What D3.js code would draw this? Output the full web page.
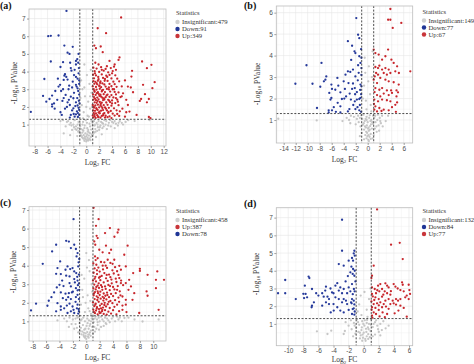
<!DOCTYPE html>
<html lang="en">
<head>
<meta charset="utf-8">
<title>Volcano plots</title>
<script src="https://d3js.org/d3.v7.min.js"></script>
<style>
  body { margin: 0; background: #fff; }
  svg { display: block; font-family: "Liberation Serif", "Times New Roman", serif; }
  .tick text { fill: #4d4d4d; font-size: 6.5px; }
  .tick line { stroke: #666; stroke-width: 0.6; }
</style>
</head>
<body>
<script>
// ---------- panel (a) ----------
var aXTicks = [-8, -6, -4, -2, 0, 2, 4, 6, 8, 10, 12];
var aYTicks = [1, 2, 3, 4, 5, 6, 7];
var aLegendKinds = ["gray", "down", "up"];
var aLegendLabels = ["Insignificant:479", "Down:91", "Up:349"];
var aGray = [[0,0.05],[0.1,0.12],[-0.1,0.18],[0.3,0.1],[-0.3,0.08],[0.2,0.25],[-0.2,0.3],[0.5,0.2],[-0.5,0.22],[0.05,0.35],[0.4,0.38],[-0.4,0.4],[0.7,0.3],[-0.7,0.35],[0.15,0.45],[-0.15,0.5],[0.6,0.5],[-0.6,0.55],[0.9,0.45],[-0.9,0.5],
  [1.1,0.6],[-1.1,0.65],[1.4,0.75],[-1.3,0.8],[1.8,0.85],[-1.6,0.9],[2.2,0.95],[-2.0,1.0],[2.6,1.05],[-2.4,1.1],[3.0,1.0],[3.5,1.1],[4.0,1.15],[4.6,1.05],[5.2,1.2],[5.7,1.0],[1.2,1.2],[1.6,1.1],[-1.2,1.15],[-1.8,1.25],[-2.8,1.2],[-3.2,0.9],[0.3,0.7],[-0.3,0.8],[0.6,0.9],[-0.6,1.0],[0.1,1.1],[-0.1,1.25],[0.8,1.2],[-0.8,0.75],[2.0,0.7],[2.5,0.8],[3.2,0.75],[-2.2,0.7],[1.0,0.95],[-1.0,1.05],[2.8,1.25],[3.8,0.9],[4.4,0.8],[6.1,1.15],[7.5,1.2],[9.8,1.25],[-4.0,1.2],[-3.5,0.5],[-2.5,0.4],[2.4,0.45],[1.5,0.3],[-1.4,0.35],[0.25,0.6],[-0.45,0.65],[0.75,0.72],[1.3,0.95],[1.9,1.2],[2.3,1.15],[4.9,0.95],
  [0.35,0.15],[-0.35,0.2],[0.65,0.12],[-0.65,0.28],[0.85,0.35],[-0.85,0.4],[1.05,0.45],[-1.05,0.55],[1.25,0.55],[-1.25,0.6],[1.45,0.6],[-1.5,0.7],[1.7,0.65],[-1.7,0.75],[2.1,0.85],[-1.9,0.85],[2.7,0.9],[-2.3,0.95],[3.4,0.95],[-2.6,1.0],[4.2,1.1],[-3.0,1.15],[5.0,1.1],[1.35,1.0],[-1.35,1.0],[0.5,1.05],[-0.5,1.15],[0.95,1.1],[-0.95,0.9],[1.75,1.0],[2.45,1.1],[3.1,1.2],[3.7,1.25],[4.4,1.2],[5.5,1.1],[6.5,1.25],[-3.6,1.25],[0.15,0.8],[-0.25,0.95],[0.45,0.55],[-0.55,0.7],
  [0.2,1.5],[-0.4,1.7],[0.6,1.9],[-0.7,2.1],[0.3,2.3],[-0.2,2.6],[0.8,2.8],[-0.6,3.0],[0.5,3.3],[-0.8,3.5],[0.1,3.8],[0.7,4.1],[-0.3,4.4],[0.9,2.0],[-0.9,2.5],[0.4,1.45],[-0.5,1.35],[0.0,2.0],[0.6,2.6],[-0.3,3.1]];
var aDown = [[-3.07,7.43],[-5.9,6.0],[-5.5,6.02],[-4.3,6.04],[-3.4,5.47],[-2.1,5.4],[-2.9,5.07],[-2.6,5.0],[-1.2,5.0],[-5.5,4.57],[-3.6,4.53],[-1.4,4.7],[-1.6,4.4],[-4.0,4.26],[-2.4,4.2],[-2.3,4.05],[-3.3,3.85],[-3.4,3.77],[-1.9,3.8],[-1.6,3.7],[-1.35,3.6],[-6.5,3.58],[-3.5,3.53],[-2.1,3.43],[-4.3,3.15],[-4.06,3.25],[-2.65,3.2],[-2.75,3.0],[-1.6,3.25],[-1.35,3.05],[-3.9,2.9],[-6.7,2.62],[-5.3,2.64],[-5.7,2.45],[-3.2,2.68],[-2.4,2.58],[-2.0,2.49],[-3.7,2.34],[-5.3,2.15],[-5.3,2.02],[-2.9,2.26],[-2.55,2.11],[-1.6,2.26],[-1.35,2.08],[-2.0,1.92],[-8.6,1.72],[-4.0,1.7],[-3.8,1.55],[-2.4,1.55],[-2.55,1.4],[-1.6,1.58],[-1.3,1.43],[-1.1,1.83],[-1.15,4.2],[-1.2,3.9],[-1.1,3.3],[-1.25,2.9],[-1.1,2.7],[-1.4,2.5],[-1.15,2.35],[-1.2,1.95],[-1.45,1.75],[-1.1,1.55],[-1.8,1.45],[-2.2,1.8],[-3.0,2.0],[-4.5,2.4],[-4.8,2.9],[-3.6,3.0],[-2.9,3.55],[-1.8,4.1],[-1.25,4.5],[-1.1,3.5],[-1.9,2.8],[-2.7,2.4],[-3.3,1.9],[-4.4,3.6],[-5.0,2.2],[-1.5,3.15],[-2.2,3.1],[-1.7,2.05],[-1.3,1.65],[-3.5,2.5],[-4.9,1.9],[-6.2,2.3],[-1.6,4.6],[-2.5,4.5],[-3.1,3.7],[-1.95,1.6],[-1.05,2.2]];
var aUp = [[5.4,7.06],[1.77,6.45],[3.07,6.17],[2.24,5.42],[1.25,5.47],[1.5,5.32],[2.55,5.1],[5.15,4.8],[5.0,4.66],[3.6,4.6],[4.4,4.4],[4.3,4.28],[8.65,4.57],[10.1,4.38],[9.4,4.19],[7.1,4.04],[7.0,3.72],[10.6,3.4],[8.8,3.25],[10.25,3.06],[6.45,3.15],[7.25,2.83],[8.3,2.34],[8.5,2.45],[9.1,2.72],[9.7,2.45],[9.4,2.26],[6.2,1.7],[6.7,1.74],[7.8,1.55],[9.7,1.43],[9.95,1.36],[6.2,2.4],[6.45,2.11],[5.7,2.77],[6.9,3.1],[6.0,3.5],[5.6,1.9],[6.0,1.45],
  [1.1,4.22],[1.6,4.17],[2.3,4.25],[3.0,4.15],[3.8,4.2],[1.3,4.02],[2.0,3.98],[2.7,4.05],[3.4,3.96],[4.1,4.03],[1.05,3.82],[1.5,3.78],[2.4,3.84],[3.1,3.77],[3.6,3.81],[4.5,3.79],[1.2,3.62],[1.9,3.57],[2.6,3.64],[2.9,3.58],[3.9,3.61],[4.8,3.6],[1.1,3.46],[1.4,3.42],[1.8,3.48],[2.2,3.44],[3.3,3.47],[4.2,3.43],[5.1,3.45],[1.25,3.31],[1.7,3.28],[2.5,3.33],[2.8,3.27],[3.6,3.3],[4.4,3.29],[1.0,3.16],[1.5,3.13],[2.0,3.18],[2.3,3.12],[3.0,3.15],[3.9,3.17],[4.7,3.14],[5.5,3.16],[1.15,3.01],[1.6,2.98],[2.1,3.03],[2.6,2.97],[3.2,3.02],[3.5,2.99],[4.1,3.0],[1.3,2.86],[1.8,2.83],[2.4,2.88],[2.9,2.84],[3.7,2.87],[4.4,2.85],[5.0,2.82],[1.05,2.71],[1.45,2.68],[1.95,2.73],[2.2,2.69],[2.7,2.72],[3.3,2.7],[3.9,2.67],[4.6,2.71],[1.2,2.56],[1.7,2.53],[2.3,2.58],[2.5,2.52],[3.0,2.55],[3.6,2.57],[4.2,2.54],[5.3,2.56],[1.1,2.41],[1.5,2.38],[1.9,2.43],[2.6,2.39],[2.8,2.42],[3.4,2.4],[4.0,2.37],[4.8,2.41],[1.3,2.26],[1.6,2.23],[2.1,2.28],[2.4,2.24],[3.1,2.25],[3.7,2.27],[4.5,2.22],[1.0,2.11],[1.4,2.08],[1.8,2.13],[2.2,2.09],[2.7,2.1],[3.3,2.12],[3.9,2.07],[5.0,2.1],[1.2,1.96],[1.55,1.93],[2.0,1.98],[2.5,1.94],[2.9,1.97],[3.5,1.95],[4.3,1.92],[1.05,1.81],[1.35,1.78],[1.75,1.83],[2.3,1.79],[2.6,1.82],[3.2,1.8],[3.8,1.77],[4.7,1.81],[1.15,1.66],[1.5,1.63],[1.9,1.68],[2.1,1.64],[2.8,1.65],[3.4,1.67],[4.1,1.62],[1.0,1.51],[1.3,1.48],[1.7,1.53],[2.4,1.49],[2.6,1.52],[3.0,1.5],[3.6,1.47],[4.4,1.51],[5.1,1.49],[1.1,1.41],[1.45,1.38],[1.85,1.43],[2.2,1.39],[2.9,1.4],[3.3,1.42],[3.9,1.37],
  [1.35,3.9],[1.85,3.7],[1.6,3.35],[2.05,3.22],[1.25,2.92],[1.65,2.78],[2.05,2.62],[1.35,2.47],[1.75,2.33],[2.25,2.17],[1.15,2.02],[1.6,1.88],[2.05,1.73],[1.25,1.58],[1.85,1.45],[2.65,1.6],[2.35,2.02],[2.75,2.48],[2.45,2.93],[2.15,3.36],[2.85,3.48],[3.25,3.7],[3.5,3.1],[3.15,2.65],[3.55,2.35],[3.05,1.9],[3.45,1.72],[4.0,2.2],[4.6,2.5],[4.3,3.0],[4.9,2.3],[5.2,1.75],[4.8,1.6],[5.5,2.6],[4.0,3.9],[4.6,4.1],[3.2,4.3],[2.4,4.1],[1.9,4.4],[1.4,4.5]];

// ---------- panel (b) ----------
var bXTicks = [-14, -12, -10, -8, -6, -4, -2, 0, 2, 4, 6];
var bYTicks = [1, 2, 3, 4, 5, 6];
var bLegendKinds = ["gray", "down", "up"];
var bLegendLabels = ["Insignificant:149", "Down:77", "Up:67"];
var bGray = [[0.1,0.08],[-0.2,0.15],[0.3,0.22],[-0.4,0.3],[0.5,0.35],[-0.1,0.4],[0.2,0.5],[-0.6,0.55],[0.7,0.6],[-0.3,0.65],[0.4,0.72],[-0.8,0.78],[0.9,0.82],[0.0,0.9],[-0.5,0.95],[0.6,1.0],[-0.9,1.05],[1.1,1.1],[-0.2,1.15],[0.35,1.22],[-0.7,1.25],[1.3,0.9],[1.6,1.0],[2.0,1.1],[2.4,1.2],[-1.2,0.7],[-1.5,0.9],[-1.8,1.05],[-2.3,1.15],[-2.8,1.2],[-3.5,1.1],[-4.2,0.95],[-8.5,0.98],[-14.9,1.06],[-1.1,1.22],[1.2,0.6],[1.5,0.45],[-1.0,0.4],[2.5,0.7],[3.0,0.95],[3.4,1.2],[1.9,0.5],[-1.3,0.25],[0.8,0.15],[-0.6,0.1],[0.2,0.02],[1.0,0.3],[-3.1,1.0],[-2.9,0.85],[1.8,0.75],
  [0.15,0.3],[-0.25,0.45],[0.35,0.55],[-0.45,0.7],[0.55,0.8],[-0.65,0.85],[0.75,0.9],[-0.2,1.0],[0.25,1.1],[1.25,1.2],[-1.3,1.1],[1.45,0.7],[-1.6,1.2],[2.1,0.95],[0.15,0.65],[-0.05,0.25],[0.5,0.12],
  [-0.3,1.9],[0.4,2.2],[-0.6,2.6],[0.7,3.0],[0.2,3.5],[-0.5,3.9],[0.8,4.2],[-0.2,1.5],[0.5,1.7],[-0.8,2.0],[0.1,2.8],[0.6,1.4],[-0.4,3.2],[1.7,1.25],[-2.0,0.8],[2.2,0.85],[0.05,0.6],[-0.15,0.75],[0.45,0.95],[0.9,1.2],[-0.35,1.05]];
var bDown = [[-1.9,5.75],[-1.6,4.97],[-1.4,4.81],[-3.3,4.67],[-2.6,4.46],[-2.2,4.2],[-2.05,4.12],[-1.4,3.97],[-10.2,3.55],[-7.7,3.66],[-1.2,3.66],[-1.05,3.42],[-3.3,3.27],[-2.9,3.24],[-2.45,3.35],[-3.7,3.11],[-6.9,3.03],[-7.05,2.88],[-5.05,2.96],[-4.0,2.8],[-3.2,2.72],[-2.05,3.03],[-1.65,2.85],[-12.05,2.69],[-9.2,2.69],[-7.3,2.8],[-6.05,2.65],[-5.95,2.45],[-5.4,2.41],[-2.6,2.45],[-2.15,2.49],[-1.2,2.65],[-1.05,2.57],[-6.4,2.26],[-4.55,2.29],[-3.0,2.23],[-6.05,2.03],[-6.2,1.95],[-4.3,1.98],[-3.6,2.1],[-2.8,1.95],[-2.15,1.87],[-1.8,1.95],[-1.4,1.98],[-1.2,2.03],[-8.45,1.56],[-5.65,1.6],[-4.55,1.64],[-6.5,1.45],[-5.95,1.45],[-3.05,1.51],[-3.3,1.4],[-2.05,1.51],[-1.4,1.45],[-6.5,1.35],[-5.3,1.38],[-4.55,1.35],[-1.8,2.3],[-1.05,3.1],[-1.1,2.2],[-1.3,1.7],[-1.1,1.38],[-2.4,1.7],[-3.8,2.45],[-4.9,2.6],[-1.5,3.2],[-1.05,3.9],[-1.1,4.3],[-2.75,3.8],[-3.9,2.0],[-2.45,2.7],[-1.7,1.6],[-7.9,2.55],[-5.0,1.8],[-1.25,2.4],[-1.6,3.55],[-2.1,2.2]];
var bUp = [[3.78,6.17],[3.4,5.67],[3.78,5.67],[5.6,5.52],[4.17,5.29],[1.0,4.28],[1.28,4.12],[1.83,4.05],[3.4,4.28],[2.95,3.97],[2.4,3.81],[3.95,3.81],[4.33,3.66],[4.9,3.5],[7.1,3.27],[1.28,3.47],[1.72,3.42],[1.94,3.53],[2.4,3.35],[2.95,3.42],[3.5,3.35],[1.4,3.19],[1.17,3.03],[1.72,3.11],[2.1,2.96],[2.67,3.19],[3.2,3.11],[3.78,3.19],[4.6,3.27],[5.2,3.19],[1.0,2.88],[1.56,2.72],[2.95,2.88],[3.5,2.8],[4.33,2.76],[5.17,2.65],[1.28,2.49],[1.94,2.41],[2.4,2.49],[3.2,2.38],[3.9,2.38],[4.8,2.38],[5.05,2.29],[1.56,2.16],[2.1,2.1],[2.67,2.23],[3.5,2.16],[4.05,2.26],[4.8,2.1],[1.1,1.95],[1.72,1.87],[2.4,1.95],[3.2,1.92],[3.78,1.87],[4.9,1.82],[4.6,1.71],[1.28,1.64],[1.94,1.56],[2.67,1.48],[1.1,1.48],[1.56,1.4],[2.3,1.42],[3.5,1.45],[4.05,1.6],[4.7,1.38],[1.15,2.3],[1.05,1.75]];

// ---------- panel (c) ----------
var cXTicks = [-8, -6, -4, -2, 0, 2, 4, 6, 8, 10];
var cYTicks = [1, 2, 3, 4, 5, 6, 7];
var cLegendKinds = ["gray", "up", "down"];
var cLegendLabels = ["Insignificant:458", "Up:387", "Down:78"];
var cGray = [[0.0,0.05],[-0.2,0.12],[0.25,0.18],[-0.4,0.25],[0.45,0.3],[-0.1,0.35],[0.15,0.42],[-0.6,0.45],[0.7,0.5],[-0.3,0.55],[0.35,0.6],[-0.8,0.65],[0.9,0.7],[0.05,0.75],[-0.5,0.8],[0.6,0.85],[-1.0,0.9],[1.1,0.95],[-0.2,1.0],[0.4,1.05],[-0.7,1.1],[0.8,1.15],[-1.3,1.2],[1.4,1.25],[-1.6,0.85],[1.7,0.8],[2.0,1.0],[2.4,1.1],[2.8,1.2],[3.3,1.05],[3.8,1.15],[4.3,1.0],[5.0,1.2],[5.7,1.18],[8.4,0.99],[10.8,1.1],[-2.0,1.1],[-2.5,1.2],[-3.3,1.15],[-4.3,1.05],[-1.8,0.6],[1.9,0.55],[-1.2,0.4],[1.3,0.45],[2.6,0.75],[-2.6,0.7],[0.2,0.9],[-0.45,1.2],[0.9,1.25],[1.6,1.1],[-1.1,1.25],[-0.1,0.2],[0.3,0.28],[0.55,0.4],[-0.35,0.38],[1.2,0.7],[-0.9,0.5],[3.0,0.85],[4.6,1.25],
  [0.35,0.12],[-0.35,0.18],[0.65,0.22],[-0.7,0.3],[1.0,0.35],[-1.0,0.45],[1.5,0.6],[-1.4,0.65],[2.2,0.7],[-2.2,0.85],[2.9,0.9],[-2.9,1.0],[3.5,0.95],[4.0,1.25],[4.8,1.1],[5.3,1.0],[6.3,1.2],[7.2,1.1],[1.25,1.15],[-1.6,1.15],[0.15,1.15],[1.85,1.2],[2.2,1.25],[3.1,1.15],[-0.85,1.05],[0.7,1.0],[-0.15,0.6],[0.5,0.75],[1.7,0.95],[2.6,1.0],
  [0.0,4.68],[0.5,3.7],[-0.3,3.3],[0.8,3.0],[-0.6,2.7],[0.2,2.4],[0.6,2.1],[-0.8,1.9],[0.3,1.7],[-0.2,1.5],[0.7,1.4],[-0.5,2.3],[0.1,3.9],[-0.7,3.5],[0.9,2.6],[0.4,4.3],[-0.1,2.0],[0.5,1.55]];
var cDown = [[-1.9,6.51],[-3.0,5.34],[-2.6,5.3],[-4.5,5.13],[-5.1,4.77],[-1.8,5.13],[-2.3,4.95],[-1.55,4.9],[-1.3,4.68],[-1.45,4.5],[-6.5,4.1],[-3.9,4.23],[-1.05,4.36],[-1.15,4.18],[-4.3,3.87],[-2.8,3.96],[-2.4,3.82],[-3.1,3.78],[-2.05,3.87],[-1.8,3.69],[-1.2,3.96],[-1.5,3.6],[-1.1,3.52],[-4.5,3.56],[-3.8,3.55],[-3.0,3.46],[-2.5,3.42],[-1.8,3.28],[-1.3,3.2],[-4.0,2.97],[-4.4,2.83],[-2.5,3.06],[-2.3,2.88],[-1.55,2.79],[-1.3,2.67],[-4.8,2.56],[-3.8,2.56],[-3.1,2.49],[-2.6,2.52],[-2.15,2.56],[-1.3,2.43],[-1.55,2.31],[-3.5,2.25],[-3.0,2.16],[-2.3,2.2],[-5.6,2.11],[-7.5,1.95],[-8.25,1.59],[-5.8,1.84],[-4.3,1.98],[-3.8,1.8],[-2.5,1.95],[-2.05,1.8],[-1.3,1.9],[-1.15,1.66],[-4.5,1.54],[-3.8,1.62],[-2.8,1.45],[-2.3,1.54],[-1.8,1.45],[-1.2,1.42],[-1.1,1.55],[-3.3,1.7],[-1.6,2.05],[-1.1,2.2],[-1.25,2.95],[-1.7,3.1],[-2.0,2.6],[-2.7,2.3],[-3.4,2.9],[-3.6,3.2],[-1.4,1.7],[-1.9,1.62],[-2.9,1.85],[-1.05,2.7],[-1.1,3.05],[-1.35,3.4],[-5.2,2.3]];
var cUp = [[1.1,7.12],[1.45,6.15],[1.84,6.51],[3.53,6.03],[4.8,5.94],[4.68,5.79],[2.8,5.76],[1.54,5.61],[1.7,5.49],[4.2,5.56],[1.2,5.31],[1.34,5.13],[2.94,5.08],[3.7,4.86],[3.43,4.68],[6.17,5.08],[1.94,4.86],[2.44,4.72],[5.67,4.59],[1.3,4.5],[1.7,4.4],[2.7,4.18],[3.2,4.32],[3.93,4.1],[4.18,4.32],[4.93,3.99],[5.17,3.78],[5.9,3.96],[8.0,3.83],[8.0,3.72],[9.15,3.51],[10.6,3.69],[7.0,3.6],[6.4,3.24],[10.4,3.24],[11.6,3.24],[5.9,3.06],[6.67,2.88],[4.93,3.33],[5.17,3.06],[9.0,2.61],[9.15,2.38],[10.4,2.79],[7.16,2.52],[5.4,2.34],[5.9,2.16],[6.9,2.16],[10.8,1.62],[5.9,1.9],[5.4,1.62],[7.9,1.45],[6.3,2.7],[6.0,1.5],
  [1.05,4.12],[1.5,4.05],[2.2,4.2],[2.9,4.0],[3.6,4.15],[4.3,3.92],[1.25,3.85],[1.8,3.9],[2.5,3.8],[3.1,3.88],[3.9,3.75],[4.6,3.7],[1.1,3.62],[1.6,3.55],[2.0,3.68],[2.7,3.6],[3.4,3.52],[4.1,3.58],[4.8,3.5],[1.35,3.4],[1.9,3.35],[2.3,3.45],[2.95,3.32],[3.6,3.38],[4.4,3.3],[1.0,3.2],[1.45,3.15],[2.1,3.22],[2.6,3.1],[3.2,3.18],[3.8,3.05],[4.5,3.12],[5.2,3.2],[1.2,2.98],[1.7,2.92],[2.2,2.95],[2.8,2.88],[3.3,2.96],[4.0,2.85],[4.7,2.9],[1.05,2.78],[1.4,2.72],[1.9,2.8],[2.4,2.7],[2.9,2.75],[3.5,2.68],[4.2,2.72],[5.0,2.62],[1.3,2.58],[1.75,2.52],[2.1,2.6],[2.6,2.5],[3.1,2.55],[3.7,2.48],[4.4,2.52],[1.1,2.4],[1.55,2.35],[2.0,2.42],[2.45,2.32],[2.85,2.38],[3.4,2.3],[4.0,2.36],[4.8,2.28],[1.25,2.2],[1.65,2.15],[2.15,2.22],[2.55,2.12],[3.0,2.18],[3.6,2.1],[4.3,2.14],[1.0,2.02],[1.4,1.96],[1.85,2.05],[2.3,1.94],[2.75,2.0],[3.2,1.92],[3.9,1.98],[4.6,1.9],[1.2,1.82],[1.6,1.76],[2.05,1.85],[2.5,1.74],[2.95,1.8],[3.5,1.72],[4.2,1.78],[1.05,1.62],[1.45,1.58],[1.9,1.66],[2.35,1.55],[2.8,1.6],[3.3,1.52],[4.0,1.6],[4.9,1.55],[1.3,1.44],[1.7,1.38],[2.15,1.46],[2.6,1.4],[3.05,1.36],[3.7,1.42],[4.5,1.38],
  [1.15,1.5],[1.55,1.68],[1.95,1.52],[1.35,1.9],[1.75,2.28],[1.15,2.5],[1.5,2.85],[1.85,3.05],[1.25,3.3],[1.6,3.75],[2.35,2.85],[2.65,2.25],[2.2,1.7],[2.7,1.88],[3.15,2.42],[3.35,2.05],[3.55,2.9],[3.05,3.5],[2.45,4.0],[1.4,4.3],[2.0,1.45],[2.4,1.62],[1.7,2.62],[2.05,3.4],[3.75,3.25],[4.6,2.7],[5.1,2.4],[5.4,1.85],[4.9,2.05],[5.5,2.95]];

// ---------- panel (d) ----------
var dXTicks = [-10, -8, -6, -4, -2, 0, 2, 4, 6];
var dYTicks = [1, 2, 3, 4, 5, 6, 7];
var dLegendKinds = ["gray", "down", "up"];
var dLegendLabels = ["Insignificant:132", "Down:84", "Up:77"];
var dGray = [[0.2,0.15],[-0.1,0.22],[0.4,0.3],[-0.4,0.35],[0.6,0.42],[0.0,0.5],[-0.7,0.55],[0.9,0.6],[-0.3,0.65],[0.3,0.72],[-1.0,0.78],[1.2,0.82],[0.1,0.9],[-0.6,0.95],[0.7,1.0],[-1.3,1.05],[1.5,1.1],[-0.2,1.15],[0.45,1.22],[-0.9,1.25],[1.8,0.9],[2.2,1.0],[2.6,1.15],[-1.6,0.7],[-2.0,0.9],[-2.4,1.1],[-6.2,0.58],[-4.3,0.62],[-2.5,0.6],[-1.7,1.2],[2.0,0.55],[2.4,0.65],[1.5,0.4],[-1.1,0.45],[0.8,0.25],[-0.5,0.18],[2.9,0.75],[3.3,0.9],[1.0,1.25],[-0.05,1.0],[1.2,0.3],[-1.4,0.3],[2.2,0.35],[-4.8,0.43],[-2.65,0.43],[0.25,0.05],[-0.15,0.4],[0.55,0.8],
  [0.35,0.55],[-0.25,0.8],[0.65,0.7],[-0.5,0.5],[0.95,0.95],[-0.75,1.1],[1.3,1.0],[-1.2,0.9],[1.65,1.2],[0.15,1.2],[0.6,0.15],[-0.2,0.05],[1.9,0.7],[0.4,1.05],
  [-0.3,1.5],[0.4,1.8],[-0.6,2.1],[0.7,2.4],[0.1,2.8],[-0.8,1.7],[0.5,1.4],[-0.4,2.6],[0.9,3.0]];
var dDown = [[-2.87,6.88],[-2.87,5.13],[-1.24,5.13],[-1.32,4.98],[-1.19,4.85],[-1.55,4.72],[-1.41,4.57],[-3.3,4.38],[-2.65,4.29],[-1.99,4.57],[-1.63,4.23],[-1.41,4.1],[-1.19,4.0],[-1.77,3.91],[-1.46,3.82],[-1.24,3.72],[-7.3,3.67],[-7.2,3.59],[-10.4,3.48],[-7.8,3.16],[-5.0,3.1],[-3.75,3.16],[-3.1,3.06],[-2.65,2.97],[-1.99,3.06],[-1.55,3.25],[-6.85,2.97],[-5.1,2.88],[-4.2,2.78],[-4.0,2.73],[-3.3,2.88],[-2.87,2.73],[-2.2,2.73],[-1.77,2.84],[-1.3,2.97],[-1.2,2.84],[-1.45,2.68],[-11.35,2.73],[-10.4,2.73],[-7.7,2.69],[-7.5,2.5],[-6.0,2.6],[-5.5,2.73],[-5.3,2.54],[-6.3,2.73],[-7.9,2.46],[-4.8,2.54],[-4.6,2.4],[-3.75,2.5],[-3.3,2.4],[-2.65,2.4],[-2.35,2.31],[-1.55,2.4],[-1.32,2.31],[-1.68,2.22],[-6.6,2.22],[-5.0,2.22],[-4.6,2.12],[-2.87,2.22],[-2.2,2.12],[-1.6,2.16],[-6.85,2.03],[-6.9,1.94],[-4.0,2.12],[-3.5,1.94],[-1.24,2.1],[-1.32,1.88],[-5.5,2.03],[-3.97,1.75],[-4.37,1.65],[-3.1,1.75],[-1.99,1.79],[-1.46,1.84],[-1.19,1.7],[-2.65,1.65],[-1.55,1.56],[-1.24,1.52],[-8.0,2.7],[-9.0,2.4],[-2.4,3.4],[-3.5,3.3],[-1.1,3.4],[-2.1,3.7],[-4.4,3.0]];
var dUp = [[1.77,7.46],[3.62,5.47],[4.77,5.58],[5.17,4.66],[1.32,4.29],[1.1,3.72],[1.02,3.59],[5.96,3.21],[5.08,3.35],[5.17,3.21],[2.87,3.29],[1.9,3.16],[2.2,3.25],[3.1,3.16],[3.3,3.06],[3.97,3.25],[4.2,3.1],[1.1,3.06],[1.46,2.97],[2.43,2.97],[2.78,2.84],[4.86,2.91],[5.3,2.84],[6.05,2.91],[6.14,2.69],[1.1,2.69],[1.63,2.73],[2.07,2.84],[3.1,2.73],[3.53,2.65],[1.55,2.5],[1.99,2.4],[2.43,2.54],[2.87,2.31],[3.3,2.4],[3.84,2.31],[4.28,2.4],[4.55,2.31],[4.86,2.4],[5.5,2.5],[5.96,2.4],[1.02,2.27],[1.32,2.12],[1.77,2.16],[2.2,2.22],[2.65,2.12],[3.53,2.12],[3.97,2.16],[4.28,2.09],[1.1,1.94],[1.55,1.9],[1.99,1.79],[2.43,1.94],[2.95,1.98],[4.86,2.03],[5.3,1.9],[1.32,1.65],[1.63,1.56],[1.1,1.47],[2.5,1.65],[3.1,1.56],[4.1,1.6],[4.6,1.75],[5.7,1.41],[2.1,1.42],[1.05,1.8],[1.4,2.35],[2.6,2.65],[3.6,2.85],[1.2,2.55],[2.0,2.05],[3.3,1.85],[1.8,2.9],[4.5,3.0],[1.15,1.35],[2.8,1.38],[5.7,2.6]];

var colors = { gray: "#c6c6c6", down: "#25399a", up: "#c8262c" };
var legendColors = { gray: "#d0d0d0", down: "#1f3596", up: "#c9353a" };

var panels = [
  { label: "(a)", labelX: 0, labelY: 9, box: { l: 29, t: 9, r: 166, b: 146 }, xDom: [-8.88, 12.36], yDom: [-0.21, 7.54],
    xTicks: aXTicks, yTicks: aYTicks, gray: aGray, down: aDown, up: aUp, kinds: aLegendKinds, labels: aLegendLabels,
    xTitleGap: 18.5, yTitleX: 14, yTitleY: 83, leg: { x: 177.5, y: 13 } },
  { label: "(b)", labelX: 244, labelY: 9, box: { l: 276.3, t: 6, r: 412.7, b: 143 }, xDom: [-15.23, 7.5], yDom: [-0.07, 6.31],
    xTicks: bXTicks, yTicks: bYTicks, gray: bGray, down: bDown, up: bUp, kinds: bLegendKinds, labels: bLegendLabels,
    xTitleGap: 18.5, yTitleX: 257, yTitleY: 84, leg: { x: 424, y: 11.5 } },
  { label: "(c)", labelX: 0, labelY: 206, box: { l: 29, t: 206.7, r: 166, b: 341 }, xDom: [-8.55, 11.9], yDom: [-0.06, 7.18],
    xTitleGap: 18.5, xTicks: cXTicks, yTicks: cYTicks, gray: cGray, down: cDown, up: cUp, kinds: cLegendKinds, labels: cLegendLabels,
    yTitleX: 13, yTitleY: 272, leg: { x: 177.5, y: 211 } },
  { label: "(d)", labelX: 244, labelY: 207, box: { l: 276.3, t: 207.7, r: 412.7, b: 345.7 }, xDom: [-11.58, 6.49], yDom: [-0.23, 7.56],
    xTitleGap: 16.3, xTicks: dXTicks, yTicks: dYTicks, gray: dGray, down: dDown, up: dUp, kinds: dLegendKinds, labels: dLegendLabels,
    yTitleX: 256, yTitleY: 274, leg: { x: 424, y: 211 } }
];

var svg = d3.select("body").append("svg")
  .attr("width", 474)
  .attr("height", 364);

// minor grid sits halfway between the major breaks
function minorTicks(ticks, dom) {
  var step = ticks[1] - ticks[0];
  var out = [];
  for (var v = ticks[0] - step / 2; v <= dom[1]; v += step) {
    if (v >= dom[0]) out.push(v);
  }
  return out;
}

function drawPanel(p) {
  var b = p.box;
  var x = d3.scaleLinear().domain(p.xDom).range([b.l, b.r]);
  var y = d3.scaleLinear().domain(p.yDom).range([b.b, b.t]);
  var g = svg.append("g");

  // grid
  var grid = g.append("g");
  minorTicks(p.xTicks, p.xDom).forEach(function(v) {
    grid.append("line").attr("x1", x(v)).attr("x2", x(v)).attr("y1", b.t).attr("y2", b.b)
      .attr("stroke", "#f1f1f1").attr("stroke-width", 0.4);
  });
  minorTicks(p.yTicks, p.yDom).forEach(function(v) {
    grid.append("line").attr("y1", y(v)).attr("y2", y(v)).attr("x1", b.l).attr("x2", b.r)
      .attr("stroke", "#f1f1f1").attr("stroke-width", 0.4);
  });
  p.xTicks.forEach(function(v) {
    grid.append("line").attr("x1", x(v)).attr("x2", x(v)).attr("y1", b.t).attr("y2", b.b)
      .attr("stroke", "#e6e6e6").attr("stroke-width", 0.6);
  });
  p.yTicks.forEach(function(v) {
    grid.append("line").attr("y1", y(v)).attr("y2", y(v)).attr("x1", b.l).attr("x2", b.r)
      .attr("stroke", "#e6e6e6").attr("stroke-width", 0.6);
  });

  // points
  var layers = [["gray", p.gray], ["down", p.down], ["up", p.up]];
  layers.forEach(function(l) {
    g.append("g").selectAll("circle")
      .data(l[1])
      .enter()
      .append("circle")
      .attr("cx", function(d) { return x(d[0]); })
      .attr("cy", function(d) { return y(d[1]); })
      .attr("r", 1.15)
      .attr("fill", colors[l[0]]);
  });

  // threshold lines
  var dash = g.append("g").attr("stroke", "#3a3a3a").attr("stroke-width", 0.9).attr("stroke-dasharray", "2,1.6");
  [-1, 1].forEach(function(v) {
    dash.append("line").attr("x1", x(v)).attr("x2", x(v)).attr("y1", b.t).attr("y2", b.b);
  });
  dash.append("line").attr("x1", b.l).attr("x2", b.r).attr("y1", y(-Math.log10(0.05))).attr("y2", y(-Math.log10(0.05)));

  // border
  g.append("rect").attr("x", b.l).attr("y", b.t).attr("width", b.r - b.l).attr("height", b.b - b.t)
    .attr("fill", "none").attr("stroke", "#bdbdbd").attr("stroke-width", 0.8);

  // axes
  var xAxis = d3.axisBottom(x).tickValues(p.xTicks).tickSize(2).tickPadding(1)
    .tickFormat(function(d) { return String(d); });
  var yAxis = d3.axisLeft(y).tickValues(p.yTicks).tickSize(2).tickPadding(1.5)
    .tickFormat(function(d) { return String(d); });
  g.append("g").attr("transform", "translate(0," + b.b + ")").call(xAxis)
    .call(function(s) { s.select(".domain").remove(); });
  g.append("g").attr("transform", "translate(" + b.l + ",0)").call(yAxis)
    .call(function(s) { s.select(".domain").remove(); });
  g.selectAll(".tick text").attr("font-family", null).attr("font-size", null);

  // axis titles
  var xt = g.append("text").attr("x", (b.l + b.r) / 2).attr("y", b.b + p.xTitleGap)
    .attr("text-anchor", "middle").attr("font-size", 7.5).attr("fill", "#333");
  xt.append("tspan").text("Log");
  xt.append("tspan").attr("font-size", 5).attr("dy", 1.5).text("2");
  xt.append("tspan").attr("dy", -1.5).text(" FC");

  var yt = g.append("text").attr("transform", "translate(" + p.yTitleX + "," + p.yTitleY + ") rotate(-90)")
    .attr("text-anchor", "middle").attr("font-size", 7.5).attr("fill", "#333").attr("dy", "0.35em");
  yt.append("tspan").text("-Log");
  yt.append("tspan").attr("font-size", 5).attr("dy", 1.5).text("10");
  yt.append("tspan").attr("dy", -1.5).text(" PValue");

  // panel label
  g.append("text").attr("x", p.labelX).attr("y", p.labelY)
    .attr("font-size", 10).attr("font-weight", "bold").attr("fill", "#111").text(p.label);

  // legend
  var leg = g.append("g");
  leg.append("text").attr("x", p.leg.x - 1.5).attr("y", p.leg.y).attr("dy", "0.35em")
    .attr("font-size", 6.5).attr("fill", "#333").text("Statistics");
  p.kinds.forEach(function(k, i) {
    var cy = p.leg.y + 9 + i * 7;
    leg.append("circle").attr("cx", p.leg.x).attr("cy", cy).attr("r", 2.2).attr("fill", legendColors[k]);
    leg.append("text").attr("x", p.leg.x + 4.5).attr("y", cy).attr("dy", "0.35em")
      .attr("font-size", 6.7).attr("fill", "#333").text(p.labels[i]);
  });
}

panels.forEach(drawPanel);
</script>
</body>
</html>
